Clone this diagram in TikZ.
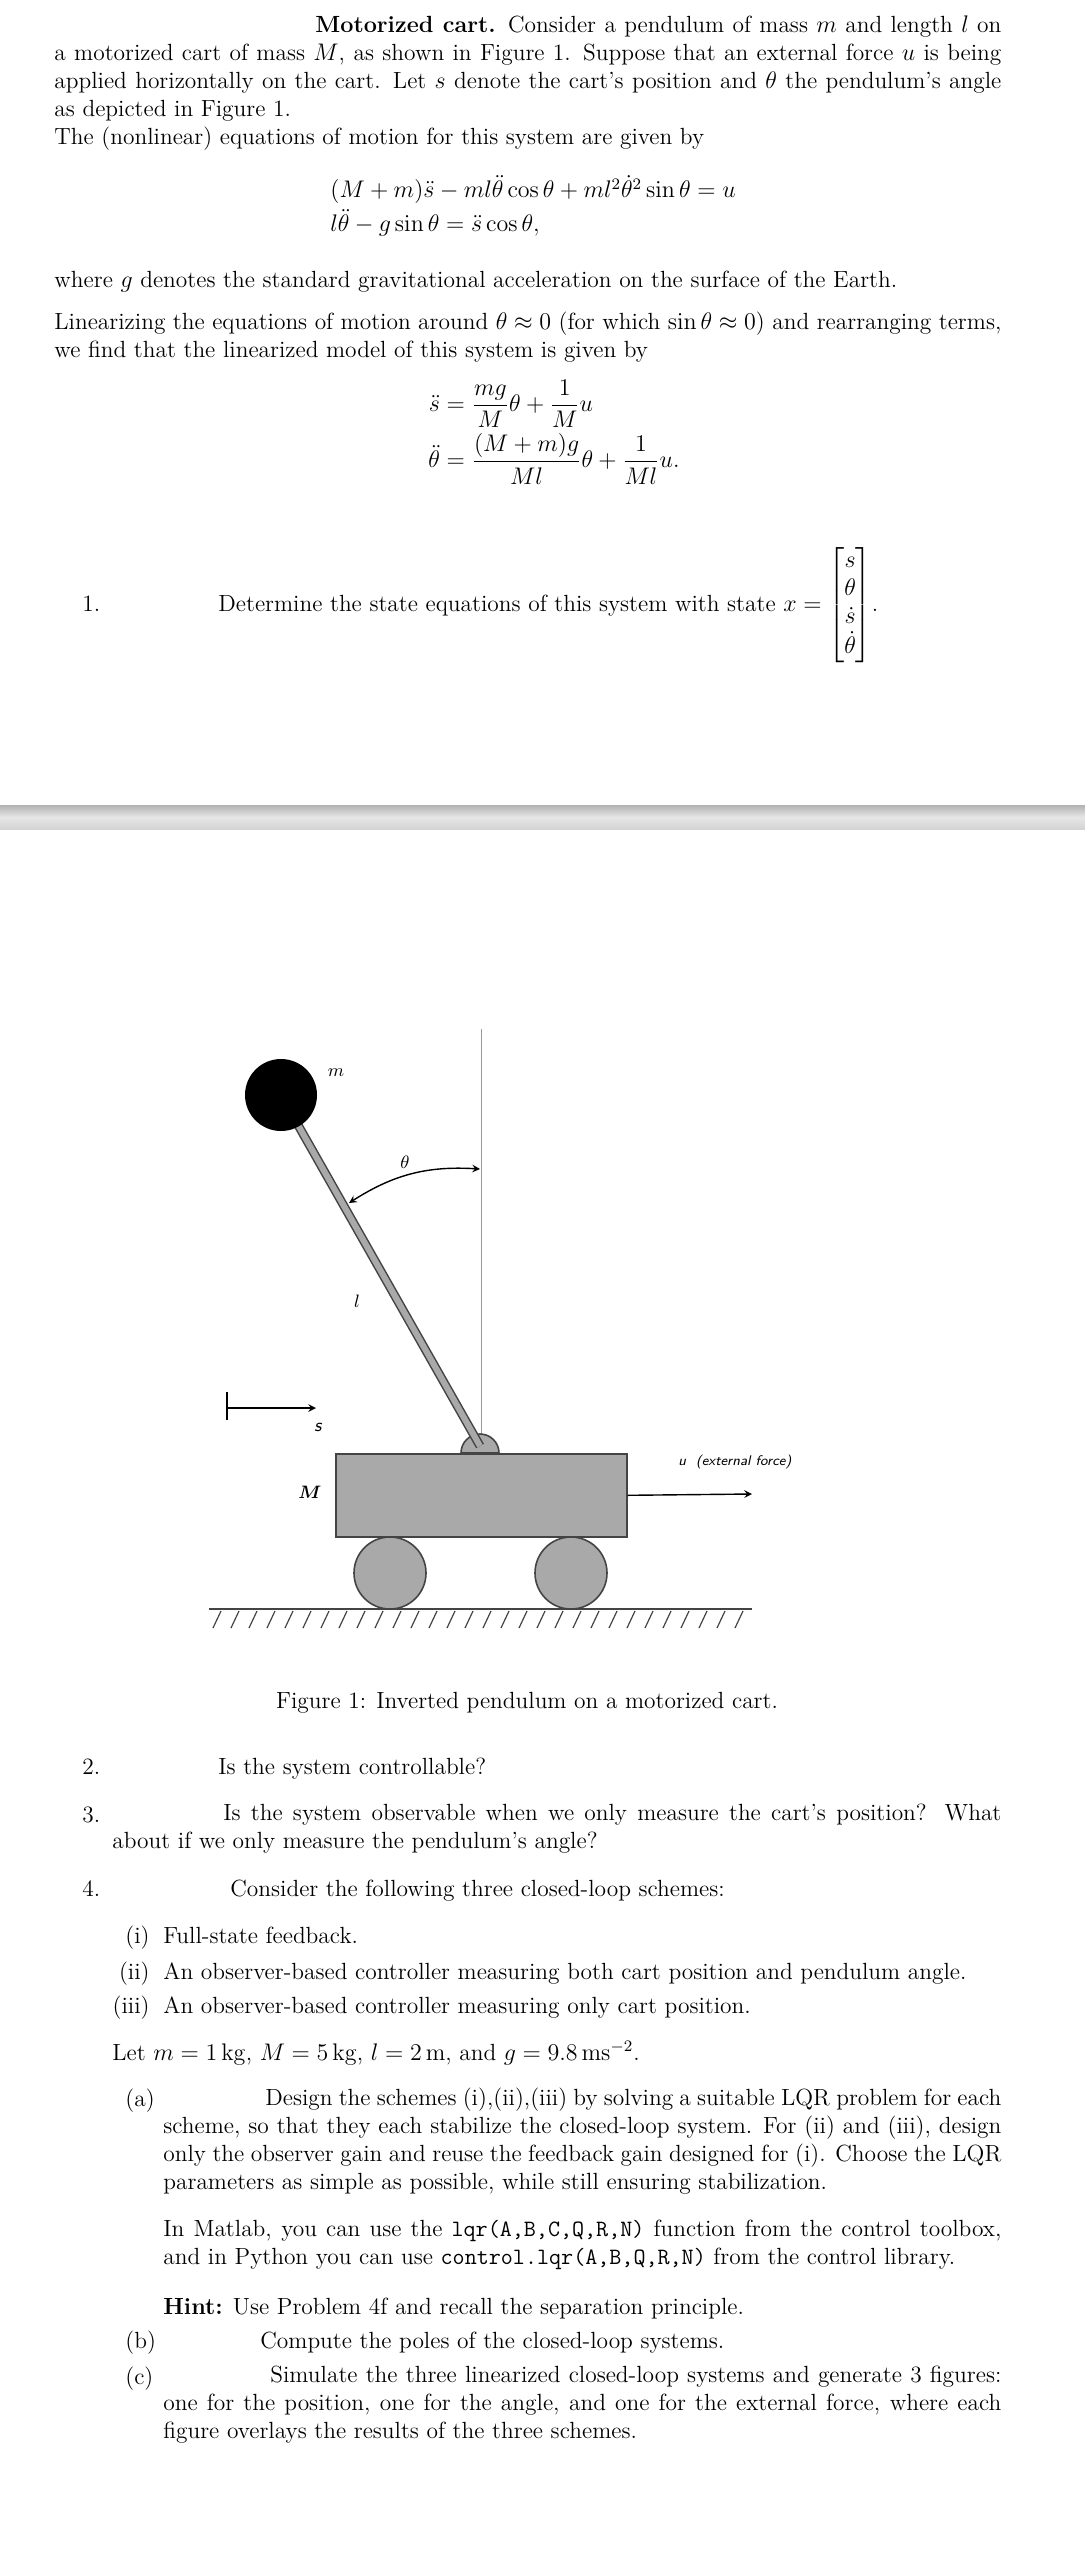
\documentclass[tikz,border=0pt]{standalone}
\usepackage{amsmath}
\definecolor{cartgray}{HTML}{A9A9A9}
\definecolor{edge}{HTML}{444444}
\begin{document}
\begin{tikzpicture}[x=0.5pt,y=-0.5pt,
  txt/.style={anchor=base west,inner sep=0pt,font=\fontsize{11.7}{14}\selectfont},
  para/.style={anchor=north west,inner sep=0pt,align=justify,font=\fontsize{11.7}{14}\selectfont},
  lbl/.style={inner sep=0pt,font=\sffamily\itshape\small},
  part/.style={draw=edge,fill=cartgray,line width=0.8pt}]
\fill[white] (0,0) rectangle (1085,2573);
\useasboundingbox (0,0) rectangle (1085,2573);
% ---- top text
\node[para,text width=473.5pt] (p1) at (54,15) {\hspace*{130.5pt}\textbf{Motorized cart.} Consider a pendulum of mass $m$ and length $l$ on\linebreak a motorized cart of mass $M$, as shown in Figure~1. Suppose that an external force $u$ is being\linebreak applied horizontally on the cart. Let $s$ denote the cart's position and $\theta$ the pendulum's angle\linebreak as depicted in Figure~1.\\ The (nonlinear) equations of motion for this system are given by};
\node[txt] (e1) at (330,198) {$(M+m)\ddot s-ml\ddot\theta\cos\theta+ml^2\dot\theta^2\sin\theta=u$};
\node[txt] (e2) at (330,232) {$l\ddot\theta-g\sin\theta=\ddot s\cos\theta,$};
\node[txt] (w) at (54,288) {where $g$ denotes the standard gravitational acceleration on the surface of the Earth.};
\node[para,text width=473.5pt] (p2) at (54,312) {Linearizing the equations of motion around $\theta\approx0$ (for which $\sin\theta\approx0$) and rearranging terms,\linebreak we find that the linearized model of this system is given by};
\node[anchor=west,inner sep=0pt,font=\fontsize{11.7}{14}\selectfont] (lin) at (428,432) {$\begin{aligned}\ddot s&=\frac{mg}{M}\theta+\frac{1}{M}u\\[-1pt] \ddot\theta&=\frac{(M+m)g}{Ml}\theta+\frac{1}{Ml}u.\end{aligned}$};
\node[txt] (n1) at (82,611) {1.};
\node[txt] (q1) at (218,611) {Determine the state equations of this system with state $x=\begin{bmatrix}s\\ \theta\\ \dot s\\ \dot\theta\end{bmatrix}$.};
% ---- separator bar
\shade[top color=black!30,bottom color=black!17,middle color=black!10] (0,805) rectangle (1085,829);
% ---- figure
\draw[black!40,line width=0.5pt] (481,1029) -- (481,1444);
\coordinate (piv) at (480,1446);
\coordinate (bobc) at (281,1095);
\node[part,minimum width=145.5pt,minimum height=41.5pt,anchor=north west] (cart) at (335,1453) {};
\fill[part] (480,1453) ++(19,0) arc[start angle=0,end angle=-180,radius=19] -- cycle;
\draw[edge,line width=4.5pt] (piv) -- (bobc);
\draw[cartgray,line width=3pt] (piv) -- (bobc);
\fill[black] (bobc) circle[radius=36];
\node[part,circle,minimum size=36pt,inner sep=0pt] (w1) at (390,1573) {};
\node[part,circle,minimum size=36pt,inner sep=0pt] (w2) at (571,1573) {};
\draw[edge,line width=1pt] (209,1609) -- (752,1609);
\foreach \i in {0,...,29} \draw[edge,line width=0.6pt] (221+18*\i,1611) -- (213+18*\i,1628);
\coordinate (th1) at (349,1203);
\coordinate (th2) at (480,1169);
\draw[<->,>=stealth,line width=0.7pt] (th1) to[bend left=18] (th2);
\node[lbl] (mlab) at (336,1073) {$m$};
\node[lbl] (thlab) at (405,1162) {$\theta$};
\node[lbl] (llab) at (357,1301) {$l$};
\node[lbl] (Mlab) at (310,1492) {$\boldsymbol{M}$};
\coordinate (s0) at (227,1408);
\coordinate (s1) at (316,1408);
\draw[line width=0.6pt] (227,1392) -- (227,1420);
\draw[->,>=stealth,line width=0.7pt] (s0) -- (s1);
\node[lbl] (slab) at (318,1427) {s};
\coordinate (u1) at (752,1494);
\draw[->,>=stealth,line width=0.7pt] (cart.east) -- (u1);
\node[lbl,anchor=west,font=\sffamily\itshape\scriptsize] (ulab) at (678,1462) {u\ \ (external force)};
% ---- caption and questions
\node[inner sep=0pt,font=\fontsize{11.7}{14}\selectfont] (cap) at (527,1703) {Figure 1: Inverted pendulum on a motorized cart.};
\node[txt] (n2) at (82,1774) {2.};
\node[txt] (q2) at (218,1774) {Is the system controllable?};
\node[txt] (n3) at (82,1822) {3.};
\node[para,text width=444.5pt] (q3) at (112,1804) {\hspace*{55.5pt}Is the system observable when we only measure the cart's position? What\linebreak about if we only measure the pendulum's angle?};
\node[txt] (n4) at (82,1896) {4.};
\node[txt] (q4) at (230,1896) {Consider the following three closed-loop schemes:};
\node[txt,anchor=base east] (ri) at (150,1943) {(i)};
\node[txt] (ti) at (163,1943) {Full-state feedback.};
\node[txt,anchor=base east] (rii) at (150,1979) {(ii)};
\node[txt] (tii) at (163,1979) {An observer-based controller measuring both cart position and pendulum angle.};
\node[txt,anchor=base east] (riii) at (150,2013) {(iii)};
\node[txt] (tiii) at (163,2013) {An observer-based controller measuring only cart position.};
\node[txt] (let) at (112,2060) {Let $m=1\,\mathrm{kg}$, $M=5\,\mathrm{kg}$, $l=2\,\mathrm{m}$, and $g=9.8\,\mathrm{ms}^{-2}$.};
\node[txt] (la) at (125,2106) {(a)};
\node[para,text width=419pt] (qa) at (163,2088) {\hspace*{51pt}Design the schemes (i),(ii),(iii) by solving a suitable LQR problem for each\linebreak scheme, so that they each stabilize the closed-loop system. For (ii) and (iii), design\linebreak only the observer gain and reuse the feedback gain designed for (i). Choose the LQR\linebreak parameters as simple as possible, while still ensuring stabilization.};
\node[para,text width=419pt] (ml) at (163,2220) {In Matlab, you can use the \texttt{lqr(A,B,C,Q,R,N)} function from the control toolbox,\linebreak and in Python you can use \texttt{control.lqr(A,B,Q,R,N)} from the control library.};
\node[txt] (hint) at (163,2314) {\textbf{Hint:} Use Problem 4f and recall the separation principle.};
\node[txt] (lb) at (125,2348) {(b)};
\node[txt] (qb) at (260,2348) {Compute the poles of the closed-loop systems.};
\node[txt] (lc) at (125,2384) {(c)};
\node[para,text width=419pt] (qc) at (163,2366) {\hspace*{53.5pt}Simulate the three linearized closed-loop systems and generate 3 figures:\linebreak one for the position, one for the angle, and one for the external force, where each\linebreak figure overlays the results of the three schemes.};
\end{tikzpicture}
\end{document}
